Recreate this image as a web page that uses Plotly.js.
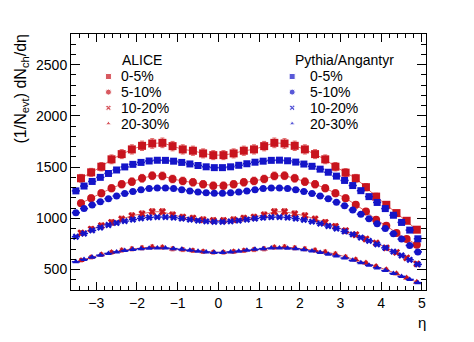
<!DOCTYPE html>
<html><head><meta charset="utf-8">
<script src="https://cdn.plot.ly/plotly-3.0.1.min.js"></script>
<style>html,body{margin:0;padding:0;background:#fff;}#chart{width:474px;height:342px;}</style>
</head><body><div id="chart"></div>
<script>
// ALICE (bin centres)
const etaAlice = [-3.375,-3.125,-2.875,-2.625,-2.375,-2.125,-1.875,-1.625,-1.375,-1.125,-0.875,-0.625,-0.375,-0.125,0.125,0.375,0.625,0.875,1.125,1.375,1.625,1.875,2.125,2.375,2.625,2.875,3.125,3.375,3.625,3.875,4.125,4.375,4.625,4.875];
const alice0_5   = [1391,1449,1504,1576,1627,1673,1708,1731,1737,1705,1673,1660,1634,1617,1617,1634,1660,1673,1705,1737,1731,1708,1673,1627,1576,1504,1446,1391,1304,1212,1132,1051,976,889];
const alice0_5err= [38,39,41,43,44,45,46,47,47,46,45,45,44,44,44,44,45,45,46,47,47,46,45,44,43,41,39,38,35,33,31,28,26,24];
const alice5_10  = [1148,1197,1245,1294,1333,1358,1391,1416,1414,1384,1365,1352,1333,1319,1319,1333,1352,1365,1384,1414,1416,1391,1358,1333,1294,1245,1197,1132,1067,986,928,857,798,743];
const alice5_10err=[31,32,34,35,36,37,38,38,38,37,37,37,36,36,36,36,37,37,37,38,38,38,37,36,35,34,32,31,29,27,25,23,22,20];
const alice10_20 = [857,895,928,960,993,1025,1044,1064,1064,1034,1012,1002,986,979,979,986,1002,1012,1034,1064,1064,1044,1025,993,960,922,879,840,798,759,711,668,614,555];
const alice10_20err=[23,24,25,26,27,28,28,29,29,28,27,27,27,26,26,27,27,27,28,29,29,28,28,27,26,25,24,23,22,20,19,18,17,15];
const alice20_30 = [590,620,646,668,688,701,711,721,717,701,694,685,675,668,668,675,685,694,701,717,721,711,701,688,672,652,623,597,565,532,500,461,419,377];
const alice20_30err=[16,17,17,18,19,19,19,19,19,19,19,18,18,18,18,18,18,19,19,19,19,19,19,19,18,18,17,16,15,14,14,12,11,10];

// Pythia/Angantyr
const etaPythia = [-3.5,-3.3,-3.1,-2.9,-2.7,-2.5,-2.3,-2.1,-1.9,-1.7,-1.5,-1.3,-1.1,-0.9,-0.7,-0.5,-0.3,-0.1,0.1,0.3,0.5,0.7,0.9,1.1,1.3,1.5,1.7,1.9,2.1,2.3,2.5,2.7,2.9,3.1,3.3,3.5,3.7,3.9,4.1,4.3,4.5,4.7,4.9];
const pythia0_5  = [1268,1315,1360,1400,1438,1472,1502,1527,1546,1560,1567,1566,1558,1546,1531,1516,1503,1495,1495,1503,1518,1533,1548,1558,1566,1568,1562,1549,1530,1508,1480,1450,1412,1370,1320,1270,1212,1155,1095,1030,960,885,800];
const pythia5_10 = [1055,1095,1130,1163,1192,1218,1242,1262,1278,1290,1296,1296,1290,1280,1268,1257,1249,1244,1244,1249,1257,1268,1280,1290,1296,1297,1292,1280,1263,1242,1218,1190,1158,1122,1082,1040,995,948,900,850,797,735,672];
const pythia10_20= [820,852,882,910,935,955,973,988,1000,1008,1012,1012,1007,998,988,978,970,965,965,970,978,988,998,1006,1011,1012,1008,998,985,968,948,925,900,872,843,812,780,746,712,675,637,595,550];
const pythia20_30= [575,598,620,640,657,672,685,695,703,708,710,709,704,697,688,679,671,666,666,671,679,688,697,704,709,711,708,702,693,681,667,650,632,612,590,567,542,516,490,462,433,403,372];
const pythiaHalfWidth = 0.1;

const centLabels = ['0-5%','5-10%','10-20%','20-30%'];
const symbols = ['square','circle','x','triangle-up'];
const RED = '#c8141e', REDERR = '#e06262', BLUE = '#1414c8';

const aliceSets = [[alice0_5,alice0_5err],[alice5_10,alice5_10err],[alice10_20,alice10_20err],[alice20_30,alice20_30err]];
const pythiaSets = [pythia0_5,pythia5_10,pythia10_20,pythia20_30];

const traces = [];
aliceSets.forEach((s,i)=>{
  traces.push({x:etaAlice,y:s[0],type:'scatter',mode:'lines+markers',showlegend:false,
    line:{color:REDERR,width:1},
    marker:{symbol:symbols[i],size:i<2?8:6.5,color:RED},
    error_y:{type:'data',array:s[1],visible:true,color:REDERR,thickness:1,width:2}});
});
pythiaSets.forEach((s,i)=>{
  traces.push({x:etaPythia,y:s,type:'scatter',mode:'markers',showlegend:false,
    marker:{symbol:symbols[i],size:i<2?7:6,color:BLUE},
    error_x:{type:'constant',value:pythiaHalfWidth,visible:true,color:BLUE,thickness:1.5,width:0}});
});

// legend swatches (overlay frame 0..1)
const legRowsY = [0.834,0.773,0.712,0.650];
const legColX = [0.1055,0.623];
[RED,BLUE].forEach((c,k)=>{
  traces.push({x:legRowsY.map(()=>legColX[k]),y:legRowsY,xaxis:'x2',yaxis:'y2',type:'scatter',mode:'markers',
    showlegend:false,hoverinfo:'skip',
    marker:{symbol:symbols,size:[6,6,5,5],color:c}});
});

const F = {family:'Liberation Sans, Arial, sans-serif',size:14,color:'#000'};
const ann = [];
ann.push({xref:'paper',yref:'paper',x:0.139,y:0.897,xanchor:'left',yanchor:'middle',text:'ALICE',showarrow:false,font:F});
ann.push({xref:'paper',yref:'paper',x:0.626,y:0.897,xanchor:'left',yanchor:'middle',text:'Pythia/Angantyr',showarrow:false,font:F});
centLabels.forEach((t,i)=>{
  ann.push({xref:'paper',yref:'paper',x:0.1364,y:legRowsY[i],xanchor:'left',yanchor:'middle',text:t,showarrow:false,font:F});
  ann.push({xref:'paper',yref:'paper',x:0.668,y:legRowsY[i],xanchor:'left',yanchor:'middle',text:t,showarrow:false,font:F});
});
ann.push({xref:'paper',yref:'paper',x:-0.14,y:1.005,xanchor:'center',yanchor:'top',textangle:-90,
  text:'(1/N<sub>evt</sub>) dN<sub>ch</sub>/dη',showarrow:false,font:Object.assign({},F,{size:16})});
ann.push({xref:'paper',yref:'paper',x:0.989,y:-0.125,xanchor:'center',yanchor:'middle',text:'η',showarrow:false,font:Object.assign({},F,{size:15})});

const axCommon = {showgrid:false,zeroline:false,showline:true,linecolor:'#000',linewidth:1,mirror:'allticks',
  ticks:'inside',ticklen:8,tickcolor:'#000',tickfont:F};
const layout = {
  width:474,height:342,margin:{l:70.5,r:48,t:33.5,b:52},
  paper_bgcolor:'#fff',plot_bgcolor:'#fff',showlegend:false,
  xaxis:Object.assign({},axCommon,{range:[-3.62,5.1],dtick:1,tick0:0,
     minor:{dtick:0.2,tick0:0,ticks:'inside',ticklen:4,tickcolor:'#000'}}),
  yaxis:Object.assign({},axCommon,{range:[300,2800],dtick:500,tick0:0,ticklen:9,
     minor:{dtick:100,tick0:0,ticks:'inside',ticklen:5,tickcolor:'#000'}}),
  xaxis2:{overlaying:'x',range:[0,1],visible:false,fixedrange:true},
  yaxis2:{overlaying:'y',range:[0,1],visible:false,fixedrange:true},
  annotations:ann,
  font:F
};
Plotly.newPlot('chart',traces,layout,{staticPlot:true,displayModeBar:false});
</script></body></html>
